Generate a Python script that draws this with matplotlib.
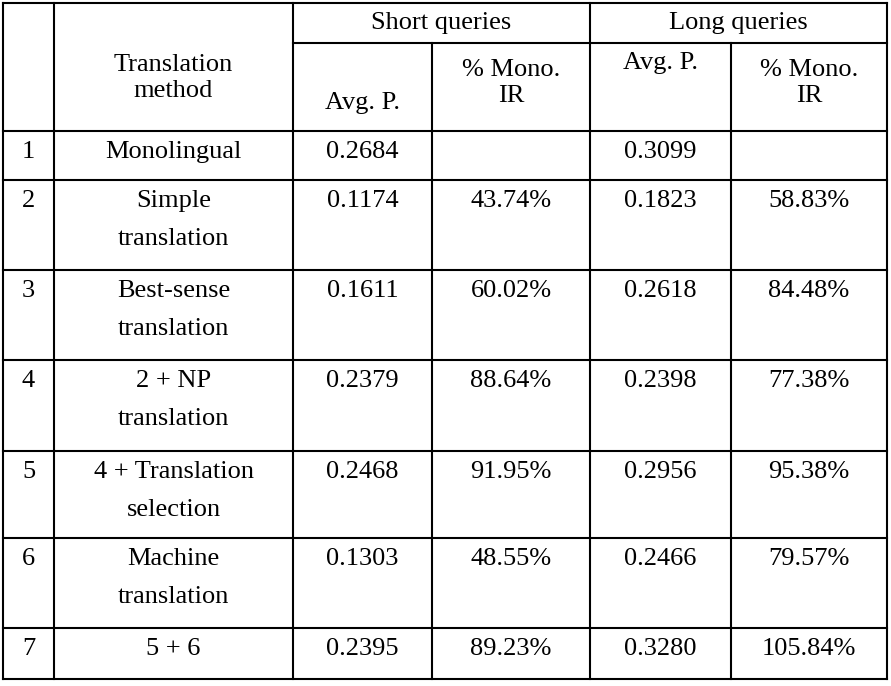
import matplotlib
matplotlib.use("Agg")
import matplotlib.pyplot as plt

nums = ["1", "2", "3", "4", "5", "6", "7"]
methods = ["Monolingual", "Simple\ntranslation", "Best-sense\ntranslation", "2 + NP\ntranslation",
           "4 + Translation\nselection", "Machine\ntranslation", "5 + 6"]
short_p = ["0.2684", "0.1174", "0.1611", "0.2379", "0.2468", "0.1303", "0.2395"]
short_pct = ["", "43.74%", "60.02%", "88.64%", "91.95%", "48.55%", "89.23%"]
long_p = ["0.3099", "0.1823", "0.2618", "0.2398", "0.2956", "0.2466", "0.3280"]
long_pct = ["", "58.83%", "84.48%", "77.38%", "95.38%", "79.57%", "105.84%"]

W, H = 891, 686
fig = plt.figure(figsize=(W/100, H/100), dpi=100)
ax = fig.add_axes([0, 0, 1, 1])
ax.set_xlim(0, W); ax.set_ylim(H, 0); ax.axis("off")

xs = [3, 54, 293, 432, 590, 731, 887]
ys = [3, 131, 180, 270, 360, 451, 538, 628, 679]
lw = 1.5
for i, x in enumerate(xs):
    y0 = 43 if i in (3, 5) else ys[0]
    ax.plot([x, x], [y0, ys[-1]], color="black", lw=lw, solid_capstyle="projecting")
for y in ys:
    ax.plot([xs[0], xs[-1]], [y, y], color="black", lw=lw, solid_capstyle="projecting")
ax.plot([xs[2], xs[-1]], [43, 43], color="black", lw=lw)

fs = 19
kw = dict(fontsize=fs, family="Liberation Serif", color="black")
ls = 1.2

def cx(i):
    return (xs[i] + xs[i+1]) / 2

ax.text((xs[2]+xs[4])/2, 23, "Short queries", ha="center", va="center", **kw)
ax.text((xs[4]+xs[6])/2, 23, "Long queries", ha="center", va="center", **kw)
ax.text(cx(1), 78, "Translation\nmethod", ha="center", va="center", linespacing=ls, **kw)
ax.text(cx(2), 103, "Avg. P.", ha="center", va="center", **kw)
ax.text(cx(3), 83, "% Mono.\nIR", ha="center", va="center", linespacing=ls, **kw)
ax.text(cx(4), 63, "Avg. P.", ha="center", va="center", **kw)
ax.text(cx(5), 83, "% Mono.\nIR", ha="center", va="center", linespacing=ls, **kw)

for r in range(7):
    top = ys[r+1]
    yc = top + 21
    ax.text(cx(0), yc, nums[r], ha="center", va="center", **kw)
    lines = methods[r].split("\n")
    for k, ln in enumerate(lines):
        ax.text(cx(1), yc + 38*k, ln, ha="center", va="center", **kw)
    ax.text(cx(2), yc, short_p[r], ha="center", va="center", **kw)
    ax.text(cx(3), yc, short_pct[r], ha="center", va="center", **kw)
    ax.text(cx(4), yc, long_p[r], ha="center", va="center", **kw)
    ax.text(cx(5), yc, long_pct[r], ha="center", va="center", **kw)

fig.savefig("out.png", dpi=100, facecolor="white")
